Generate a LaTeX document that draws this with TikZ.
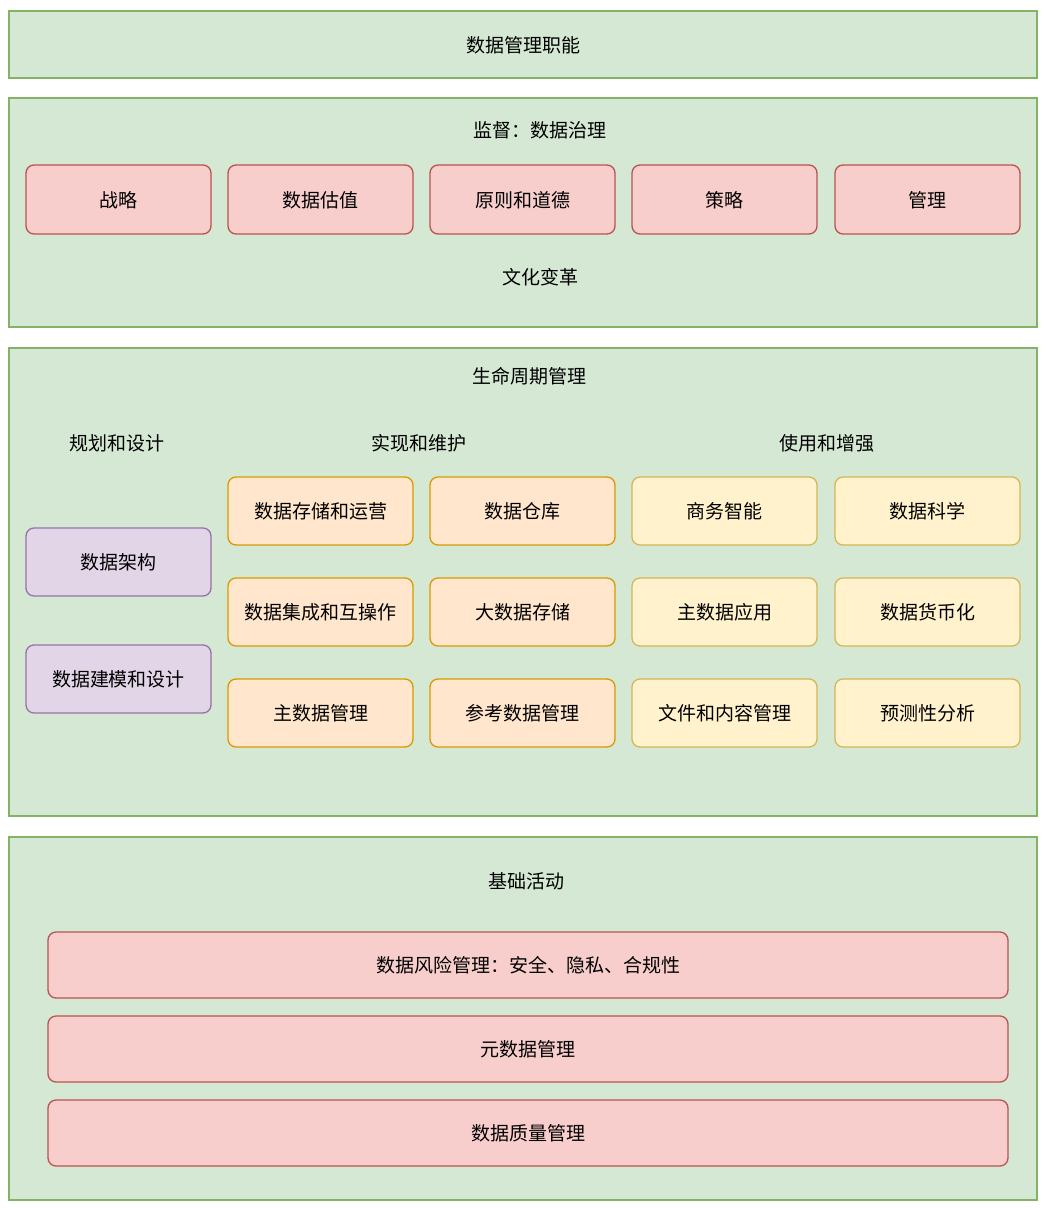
\documentclass[tikz,border=0pt]{standalone}
\usepackage{fontspec}
\setmainfont{Noto Sans CJK SC}
\definecolor{gf}{HTML}{D5E8D4}\definecolor{gs}{HTML}{82B366}
\definecolor{pf}{HTML}{F8CECC}\definecolor{ps}{HTML}{B85450}
\definecolor{of}{HTML}{FFE6CC}\definecolor{os}{HTML}{D79B00}
\definecolor{yf}{HTML}{FFF2CC}\definecolor{ys}{HTML}{D6B656}
\definecolor{uf}{HTML}{E1D5E7}\definecolor{us}{HTML}{9673A6}
\begin{document}
\begin{tikzpicture}[x=1pt,y=-1pt,
  every node/.style={font=\fontsize{19}{22}\selectfont},
  grp/.style={draw=gs,fill=gf,line width=1.3pt},
  bx/.style={rounded corners=8pt,line width=1.3pt},
  pink/.style={bx,draw=ps,fill=pf},
  orng/.style={bx,draw=os,fill=of},
  yel/.style={bx,draw=ys,fill=yf},
  purp/.style={bx,draw=us,fill=uf}]
\useasboundingbox (0,0) rectangle (1048,1208);
\fill[white] (0,0) rectangle (1048,1208);
% top
\draw[grp] (9,11) rectangle (1037,78);
\node (t1) at (523,45) {数据管理职能};
% governance
\draw[grp] (9,98) rectangle (1037,327);
\node (g0) at (540,130) {监督：数据治理};
\foreach \x/\t [count=\i] in {26/战略,228/数据估值,430/原则和道德,632/策略,835/管理}{
  \draw[pink] (\x,165) rectangle ++(185,69);
  \node (g\i) at (\x+92.5,200) {\t};
}
\node (gc) at (540,277) {文化变革};
% lifecycle
\draw[grp] (9,348) rectangle (1037,816);
\node (l0) at (529,376) {生命周期管理};
\node (h1) at (117,443) {规划和设计};
\node (h2) at (419,443) {实现和维护};
\node (h3) at (827,443) {使用和增强};
\draw[purp] (26,528) rectangle ++(185,68); \node (p1) at (118.5,562) {数据架构};
\draw[purp] (26,645) rectangle ++(185,68); \node (p2) at (118.5,679) {数据建模和设计};
\foreach \x/\y/\t [count=\i] in {228/477/数据存储和运营,430/477/数据仓库,228/578/数据集成和互操作,430/578/大数据存储,228/679/主数据管理,430/679/参考数据管理}{
  \draw[orng] (\x,\y) rectangle ++(185,68);
  \node (o\i) at (\x+92.5,\y+34) {\t};
}
\foreach \x/\y/\t [count=\i] in {632/477/商务智能,835/477/数据科学,632/578/主数据应用,835/578/数据货币化,632/679/文件和内容管理,835/679/预测性分析}{
  \draw[yel] (\x,\y) rectangle ++(185,68);
  \node (y\i) at (\x+92.5,\y+34) {\t};
}
% foundation
\draw[grp] (9,837) rectangle (1037,1200);
\node (f0) at (526,881) {基础活动};
\foreach \y/\t [count=\i] in {932/数据风险管理：安全、隐私、合规性,1016/元数据管理,1100/数据质量管理}{
  \draw[pink] (48,\y) rectangle (1008,\y+66);
  \node (f\i) at (528,\y+33) {\t};
}
\end{tikzpicture}
\end{document}
